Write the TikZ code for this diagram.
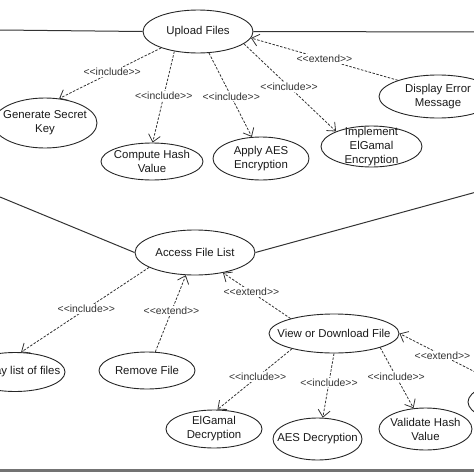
\documentclass[tikz,border=0pt]{standalone}
\usepackage{fontspec}
\setmainfont{Liberation Sans}
\usetikzlibrary{shapes.geometric}
\usetikzlibrary{arrows.meta}
\newcommand\stereo[1]{<\kern0pt<#1>\kern0pt>}

\tikzset{
  uc/.style={draw=black!85, line width=0.9pt, ellipse, inner sep=0pt},
  inc/.style={black!80, line width=0.8pt, dash pattern=on 2.5pt off 1.5pt, -{Straight Barb[length=7pt,width=12pt]}},
  lbl/.style={fill=white, inner sep=1pt, font=\fontsize{10.4}{12}\selectfont, text=black!80},
  assoc/.style={black!80, line width=1pt}
}

\begin{document}
\begin{tikzpicture}[x=1pt,y=-1pt, every label/.style={align=center, font=\fontsize{11.4}{14}\selectfont, text=black!90}]

\clip (0,0) rectangle (474,474);

\node[uc, minimum width=110, minimum height=43, label=center:Upload Files] (up) at (198,31.5) {};
\node[uc, minimum width=104, minimum height=50, label=center:{Generate Secret\\Key}] (gen) at (45,123) {};
\node[uc, minimum width=102, minimum height=37, label=center:{Compute Hash\\Value}] (hash) at (152,161.5) {};
\node[uc, minimum width=96, minimum height=43, label=center:{Apply AES\\Encryption}] (aes) at (261,158.5) {};
\node[uc, minimum width=101, minimum height=41, label=center:{Implement\\ElGamal\\Encryption}] (elg) at (371.5,146.5) {};
\node[uc, minimum width=118, minimum height=43, label=center:{Display Error\\Message}] (err) at (438,96.5) {};

\node[uc, minimum width=120, minimum height=45, label=center:Access File List] (acc) at (195,252.5) {};
\node[uc, minimum width=100, minimum height=39, label=center:Display list of files] (lst) at (15,372) {};
\node[uc, minimum width=96, minimum height=37, label=center:Remove File] (rem) at (147,370.5) {};
\node[uc, minimum width=130, minimum height=39, label=center:View or Download File] (view) at (334,333.5) {};
\node[uc, minimum width=96, minimum height=38, label=center:{ElGamal\\Decryption}] (eld) at (214,429) {};
\node[uc, minimum width=89, minimum height=42, label=center:AES Decryption] (aesd) at (317.5,439) {};
\node[uc, minimum width=93, minimum height=42, label=center:{Validate Hash\\Value}] (val) at (425.5,429) {};
\node[uc, minimum width=96, minimum height=40] (far) at (516,402) {};

\coordinate (a1) at (0,30);
\coordinate (a2) at (480,32);
\coordinate (a3) at (0,197);
\coordinate (a4) at (480,191);

\draw[assoc] (a1) -- (up.west);
\draw[assoc] (up.east) -- (a2);
\draw[assoc] (a3) -- (acc.west);
\draw[assoc] (acc.east) -- (a4);

\draw[inc] (up.204) -- node[lbl,pos=.48]{\stereo{include}} (gen.60);
\draw[inc] (up.220) -- node[lbl,pos=.49]{\stereo{include}} (hash.88);
\draw[inc] (up.297) -- node[lbl,pos=.52]{\stereo{include}} (aes.113);
\draw[inc] (up.345) -- node[lbl,pos=.49]{\stereo{include}} (elg.157);
\draw[inc] (err.158) -- node[lbl,pos=.5]{\stereo{extend}} (up.353);

\draw[inc] (acc.198) -- node[lbl,pos=.49]{\stereo{include}} (lst.73);
\draw[inc] (rem.66) -- node[lbl,pos=.53]{\stereo{extend}} (acc.248);
\draw[inc] (view.161) -- node[lbl,pos=.58]{\stereo{extend}} (acc.324);
\draw[inc] (view.200) -- node[lbl,pos=.46]{\stereo{include}} (eld.80);
\draw[inc] (view.270) -- node[lbl,pos=.45]{\stereo{include}} (aesd.76);
\draw[inc] (view.343) -- node[lbl,pos=.48]{\stereo{include}} (val.120);
\draw[inc] (far.135) -- node[lbl,pos=.56]{\stereo{extend}} (view.0);

\fill[black!55] (0,469) rectangle (474,472);

\end{tikzpicture}
\end{document}
